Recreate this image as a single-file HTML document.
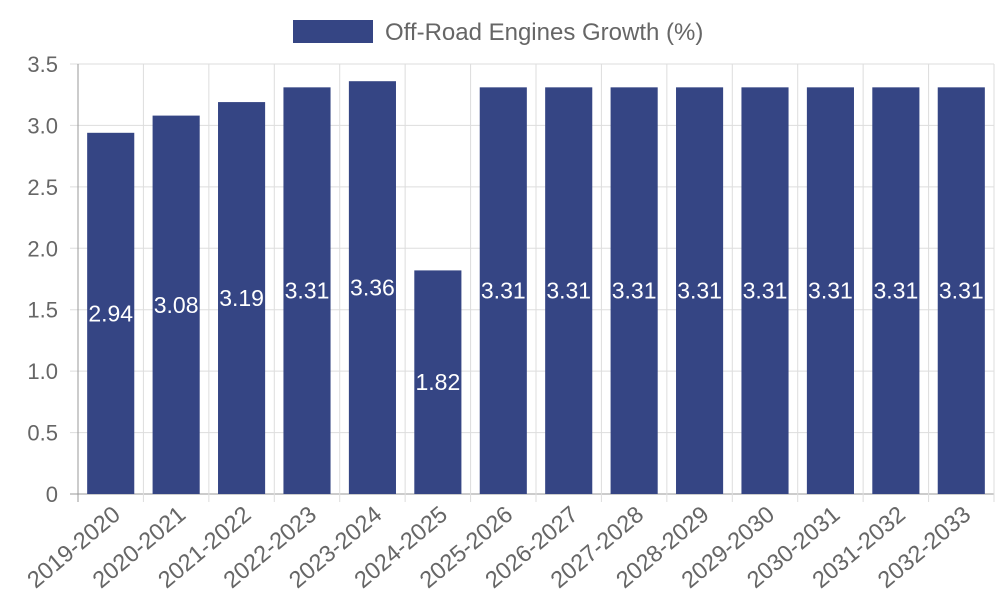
<!DOCTYPE html>
<html><head><meta charset="utf-8"><style>
body{margin:0;background:#fff;}
svg{display:block;font-family:"Liberation Sans",sans-serif;}
</style></head><body>
<svg id="chart" width="1000" height="600">
<g>
<rect x="293" y="20" width="80" height="23" fill="#354584"></rect>
<text x="385" y="40" font-size="24" fill="#666">Off-Road Engines Growth (%)</text>
</g>
<g id="grid"></g><g id="bars"></g><g id="labels"></g>
</svg>
<script>
const categories=["2019-2020","2020-2021","2021-2022","2022-2023","2023-2024","2024-2025","2025-2026","2026-2027","2027-2028","2028-2029","2029-2030","2030-2031","2031-2032","2032-2033"];
const values=[2.94,3.08,3.19,3.31,3.36,1.82,3.31,3.31,3.31,3.31,3.31,3.31,3.31,3.31];
const yTicks=[0,0.5,1.0,1.5,2.0,2.5,3.0,3.5];
const yTickLabels=["0","0.5","1.0","1.5","2.0","2.5","3.0","3.5"];
const NS="http://www.w3.org/2000/svg";
const L=78,R=994,T=64,B=494,yMax=3.5;
const band=(R-L)/categories.length;
const y=v=>B-(v/yMax)*(B-T);
const x=i=>L+i*band;
function mk(tag,attrs,parent){const e=document.createElementNS(NS,tag);for(const k in attrs)e.setAttribute(k,attrs[k]);parent.appendChild(e);return e;}
const grid=document.getElementById('grid'),bars=document.getElementById('bars'),labels=document.getElementById('labels');
yTicks.forEach((t,i)=>{
 const ln=mk('line',{x1:L-8,x2:R,y1:y(t),y2:y(t),stroke:i===0?'#999':'#ddd','stroke-width':1},grid);
 
 
 const tx=mk('text',{x:L-20,y:y(t)+8,'text-anchor':'end','font-size':22,fill:'#666'},grid);
 tx.textContent=yTickLabels[i];
 
 
});
for(let i=0;i<=categories.length;i++){
 const ln=mk('line',{x1:x(i),x2:x(i),y1:T,y2:B+8,stroke:i===0?'#999':'#ddd','stroke-width':1},grid);
 
 
}
categories.forEach((c,i)=>{
 const bw=band*0.72,cx=x(i)+band/2;
 const r=mk('rect',{x:cx-bw/2,y:y(values[i]),width:bw,height:B-y(values[i]),fill:'#354584'},bars);
 
 
 const vt=mk('text',{x:cx,y:(y(values[i])+B)/2+8,'text-anchor':'middle','font-size':23,fill:'#fff'},labels);
 vt.textContent=values[i].toFixed(2);
 
 
 const ax=cx+11,ay=B+23;
 const xt=mk('text',{x:ax,y:ay,'text-anchor':'end','font-size':23.5,fill:'#666',transform:`rotate(-40 ${ax} ${ay})`},labels);
 xt.textContent=c;
 
 
});
</script>
</body></html>
